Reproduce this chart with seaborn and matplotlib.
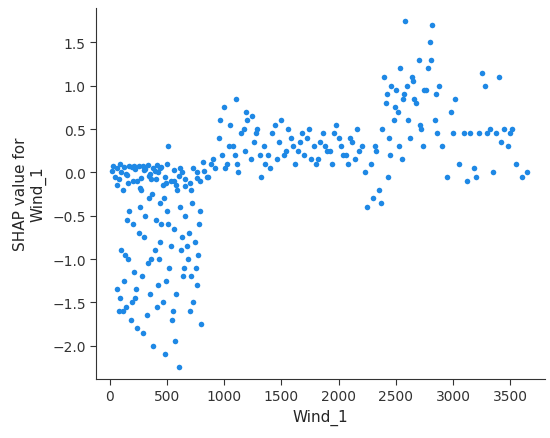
import matplotlib
matplotlib.use("Agg")
import matplotlib.pyplot as plt
import seaborn as sns
import pandas as pd

# points, grouped by region (Wind_1, SHAP value)
band_x = [20, 40, 60, 80, 100, 120, 150, 170, 200, 220, 250, 270, 300, 330, 350, 380, 400, 420, 450, 480,
          500, 530, 560, 600, 630, 660, 700, 730, 760, 790, 820, 850, 880, 60, 110, 160, 210, 260, 310, 360,
          410, 460, 510, 560, 610, 660, 710, 760, 810, 860, 30, 90, 140, 190, 240, 290, 340, 390, 440, 490]
band_y = [0.02, -0.05, 0.05, -0.08, 0.0, 0.06, -0.03, 0.08, -0.1, 0.04, 0.07, -0.06, 0.03, 0.09, -0.02, 0.05,
          -0.08, 0.01, 0.06, -0.05, 0.1, -0.1, 0.03, -0.04, 0.0, -0.08, -0.12, 0.05, -0.06, -0.1, 0.02, -0.05,
          0.1, -0.15, -0.2, -0.12, 0.08, -0.18, 0.04, -0.07, 0.09, -0.14, 0.3, -0.1, 0.05, -0.16, -0.2, 0.0,
          0.12, -0.05, 0.08, 0.1, -0.02, 0.06, -0.1, 0.07, -0.04, 0.02, 0.05, -0.12]
neg_x = [60, 80, 100, 120, 140, 160, 180, 200, 220, 240, 260, 280, 300, 320, 340, 360, 380, 400, 420, 440,
         460, 480, 500, 520, 540, 560, 580, 600, 620, 640, 660, 680, 700, 720, 740, 760, 780, 800, 90, 130,
         170, 210, 250, 290, 330, 370, 410, 450, 490, 530, 570, 610, 650, 690, 730, 770, 150, 230, 310, 390,
         470, 550, 630, 710, 790, 270, 350, 430, 510, 590, 670, 750, 110, 190, 440, 580]
neg_y = [-1.35, -1.6, -0.9, -1.25, -1.55, -1.0, -1.7, -0.6, -1.45, -1.8, -0.4, -1.2, -0.75, -1.65, -0.3, -1.0,
         -2.0, -0.55, -1.3, -0.8, -1.5, -2.1, -0.45, -1.1, -1.7, -0.65, -1.4, -2.25, -0.9, -1.2, -0.5, -1.0,
         -1.6, -0.35, -0.8, -1.3, -0.6, -1.75, -1.45, -0.95, -0.45, -1.15, -0.7, -1.85, -1.05, -0.25, -1.55,
         -0.6, -1.25, -0.85, -1.95, -0.4, -1.1, -0.7, -1.5, -0.95, -0.55, -1.35, -0.5, -0.9, -0.3, -1.6,
         -0.75, -1.2, -0.45, -0.2, -1.4, -1.0, -0.6, -0.2, -0.85, -1.1, -1.6, -1.5, -0.35, -0.15]
mid_x = [900, 920, 950, 980, 1000, 1020, 1050, 1080, 1100, 1120, 1150, 1180, 1200, 1230, 1260, 1290, 1320,
         1350, 1380, 1420, 1460, 1500, 1540, 1580, 1620, 1660, 1700, 1740, 1780, 1820, 1860, 1900, 1940,
         1980, 2020, 2060, 2100, 2140, 2180, 960, 1040, 1110, 1170, 1240, 1310, 1400, 1480, 1560, 1640,
         1720, 1800, 1880, 1960, 2040, 2120, 2200, 1010, 1090, 1190, 1280, 1360, 1440, 1520, 1600, 1680,
         1760, 1840, 1920, 2000, 2080, 2160]
mid_y = [0.15, 0.05, 0.4, 0.2, 0.75, 0.1, 0.55, 0.3, 0.85, 0.0, 0.45, 0.25, 0.6, 0.15, 0.35, 0.5, -0.05,
         0.3, 0.2, 0.45, 0.15, 0.6, 0.25, 0.4, 0.1, 0.35, 0.2, 0.5, 0.3, 0.15, 0.45, 0.25, 0.1, 0.55, 0.3,
         0.2, 0.4, 0.15, 0.25, 0.6, 0.3, 0.1, 0.5, 0.65, 0.2, 0.05, 0.35, 0.5, 0.25, 0.4, 0.1, 0.3, 0.45,
         0.2, 0.35, 0.3, 0.05, 0.2, 0.7, 0.45, 0.1, 0.55, 0.2, 0.3, 0.45, 0.15, 0.35, 0.25, 0.4, 0.1, 0.5]
high_x = [2250, 2280, 2300, 2320, 2350, 2380, 2400, 2420, 2440, 2460, 2480, 2500, 2520, 2540, 2560, 2580,
          2600, 2620, 2650, 2680, 2700, 2720, 2750, 2780, 2800, 2820, 2850, 2880, 2900, 2330, 2370, 2410,
          2450, 2490, 2530, 2570, 2610, 2660, 2710, 2760, 2810, 2860, 2230, 2430, 2550, 2640, 2740, 2840]
high_y = [-0.4, 0.1, -0.3, 0.3, -0.2, 0.5, 1.1, 0.9, 0.4, 1.0, 0.6, 0.95, 0.7, 1.2, 0.85, 1.75, 1.0, 0.4,
          1.05, 0.8, 1.3, 0.5, 0.95, 1.2, 1.5, 1.7, 0.9, 1.0, 0.3, 0.25, -0.35, 0.8, 0.2, 0.75, 0.3, 0.9,
          0.6, 0.85, 0.55, 0.95, 1.3, 0.45, 0.0, -0.05, 0.15, 1.1, 0.3, 0.6]
tail_x = [2950, 3000, 3050, 3100, 3150, 3200, 3250, 3280, 3300, 3350, 3380, 3400, 3450, 3480, 3500, 3550,
          3600, 3650, 3020, 3120, 3230, 3320, 3420, 3520, 2980, 3180]
tail_y = [-0.05, 0.45, 0.1, 0.45, 0.45, -0.05, 1.15, 1.0, 0.45, 0.0, 0.45, 1.1, 0.5, 0.3, 0.45, 0.1,
          -0.05, 0.0, 0.85, -0.1, 0.45, 0.5, 0.35, 0.5, 0.7, 0.05]

wind = band_x + neg_x + mid_x + high_x + tail_x
shap = band_y + neg_y + mid_y + high_y + tail_y
df = pd.DataFrame({"Wind_1": wind, "shap": shap})

sns.set_style("white")
fig, ax = plt.subplots(figsize=(5.5, 4.39), dpi=100)
sns.scatterplot(data=df, x="Wind_1", y="shap", color="#1E88E5", s=16, linewidth=0, ax=ax)
ax.set_xlabel("Wind_1", fontsize=11)
ax.set_ylabel("SHAP value for\nWind_1", fontsize=11)
ax.set_xticks([0, 500, 1000, 1500, 2000, 2500, 3000, 3500])
ax.set_yticks([-2.0, -1.5, -1.0, -0.5, 0.0, 0.5, 1.0, 1.5])
ax.set_xlim(-120, 3800)
ax.set_ylim(-2.38, 1.9)
for s in ["top", "right"]:
    ax.spines[s].set_visible(False)
for s in ["left", "bottom"]:
    ax.spines[s].set_color("#333333")
ax.tick_params(axis="both", labelsize=10, colors="#333333", length=4, left=True, bottom=True)
plt.subplots_adjust(left=0.175, right=0.99, top=0.98, bottom=0.135)
fig.savefig("out.png")
